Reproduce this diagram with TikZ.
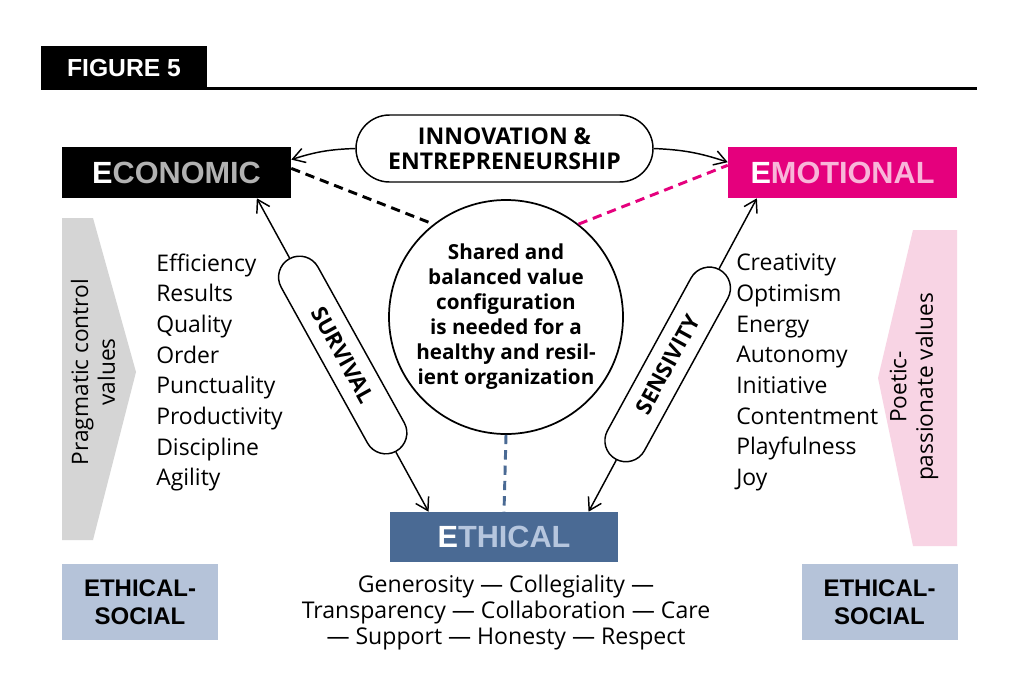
\documentclass[tikz,border=0pt]{standalone}
\usepackage{fontspec}
\setmainfont{Open Sans}
\newfontfamily\headfont{Liberation Sans}
\usetikzlibrary{arrows.meta,calc,shapes.misc}

\definecolor{ecogray}{RGB}{178,178,178}
\definecolor{emomagenta}{RGB}{229,0,125}
\definecolor{emopink}{RGB}{248,182,217}
\definecolor{ethblue}{RGB}{74,106,148}
\definecolor{ethlight}{RGB}{182,198,222}
\definecolor{socialblue}{RGB}{181,195,217}
\definecolor{pragray}{RGB}{213,213,213}
\definecolor{poetpink}{RGB}{248,212,228}

\begin{document}
\begin{tikzpicture}[x=0.75pt,y=0.75pt,yscale=-1,xscale=1,
  box/.style={minimum width=171.75pt,minimum height=38.25pt,inner sep=0pt,font=\headfont\bfseries\fontsize{23}{23}\selectfont},
  socialbox/.style={fill=socialblue,minimum width=117pt,minimum height=57pt,inner sep=0pt,align=center,font=\headfont\bfseries\fontsize{18}{21}\selectfont},
  pill/.style={draw,line width=1.1pt,fill=white,rounded rectangle,inner sep=0pt,font=\bfseries\fontsize{16.5}{16.5}\selectfont},
  arr/.style={line width=1.1pt,-{Straight Barb[length=9pt,width=11pt,line width=1.1pt]}},
  link/.style={line width=2.2pt,dash pattern=on 7pt off 4.5pt},
  values/.style={inner sep=0pt,align=left,anchor=west,font=\fontsize{17.2}{23}\selectfont},
  sidetext/.style={rotate=90,inner sep=0pt,align=center,font=\fontsize{17}{20}\selectfont},
]
\useasboundingbox (0,0) rectangle (1024,682);
\fill[white] (0,0) rectangle (1024,682);

% Header
\node[fill=black,text=white,minimum width=124.5pt,minimum height=33pt,inner sep=0pt,font=\headfont\bfseries\fontsize{18.5}{18.5}\selectfont] (fig) at (124,68) {FIGURE 5};
\coordinate (ruleL) at (41,88.5);
\coordinate (ruleR) at (977,88.5);
\draw[line width=2.3pt] (ruleL) -- (ruleR);

%Shape: side arrows
\fill[pragray] (62,218) -- (93,218) -- (136,372) -- (93,540) -- (62,540) -- cycle;
\fill[poetpink] (957,230) -- (913,230) -- (878,378) -- (913,546) -- (957,546) -- cycle;
\node[sidetext] (pragtxt) at (93,372) {Pragmatic control\\values};
\node[sidetext] (poettxt) at (914,387) {Poetic-\\passionate values};

% Value boxes
\node[box,fill=black] (eco) at (176.5,172.5) {\textcolor{white}{E}\textcolor{ecogray}{CONOMIC}};
\node[box,fill=emomagenta] (emo) at (842.5,172.5) {\textcolor{white}{E}\textcolor{emopink}{MOTIONAL}};
\node[box,fill=ethblue,minimum width=171pt,minimum height=37.5pt] (eth) at (504,537) {\textcolor{white}{E}\textcolor{ethlight}{THICAL}};
\node[socialbox] (socl) at (140,602) {ETHICAL-\\SOCIAL};
\node[socialbox] (socr) at (879.5,602) {ETHICAL-\\SOCIAL};

%Shape: Circle
\node[circle,draw,line width=1.3pt,minimum size=175.5pt,inner sep=0pt,align=center,font=\bfseries\fontsize{15.5}{18.75}\selectfont] (circ) at (506,317) {Shared and\\balanced value\\configuration\\is needed for a\\healthy and resil-\\ient organization};

% Innovation
\node[pill,minimum width=222.75pt,minimum height=50.25pt,align=center,font=\bfseries\fontsize{17.3}{19}\selectfont] (innov) at (504.5,148.5) {INNOVATION \&\\ENTREPRENEURSHIP};
\draw[arr] (innov.west) to[bend left=8] ($(eco.north east)!0.25!(eco.south east)$);
\draw[arr] (innov.east) to[bend right=8] ($(emo.north west)!0.3!(emo.south west)$);

% Dashed links
\draw[link] ($(eco.north east)!0.42!(eco.south east)$) -- (circ.128);
\draw[link,emomagenta] (circ.52) -- ($(emo.north west)!0.36!(emo.south west)$);
\draw[link,ethblue] (circ.south) -- (eth.north);

% Survival and sensivity
\coordinate (survTop) at ($(eco.south west)!0.85!(eco.south east)$);
\coordinate (survBot) at ($(eth.north west)!0.17!(eth.north east)$);
\coordinate (sensTop) at ($(emo.south west)!0.127!(emo.south east)$);
\coordinate (sensBot) at ($(eth.north west)!0.87!(eth.north east)$);
\path (survTop) -- node[pill,rotate=-61,minimum width=165pt,minimum height=31.5pt] (surv) {SURVIVAL} (survBot);
\path (sensBot) -- node[pill,rotate=61.3,pos=0.47,minimum width=162pt,minimum height=31.5pt] (sens) {SENSIVITY} (sensTop);
\draw[arr] (surv) -- (survTop);
\draw[arr] (surv) -- (survBot);
\draw[arr] (sens) -- (sensTop);
\draw[arr] (sens) -- (sensBot);

% Text Node
\node[values] (ecovals) at (156,372.5) {Efficiency\\Results\\Quality\\Order\\Punctuality\\Productivity\\Discipline\\Agility};
% Text Node
\node[values] (emovals) at (736,372.5) {Creativity\\Optimism\\Energy\\Autonomy\\Initiative\\Contentment\\Playfulness\\Joy};
% Text Node
\node[inner sep=0pt,align=center,font=\fontsize{17.3}{19.2}\selectfont] (ethvals) at (506,612.5) {Generosity — Collegiality —\\Transparency — Collaboration — Care\\— Support — Honesty — Respect};
\end{tikzpicture}
\end{document}
